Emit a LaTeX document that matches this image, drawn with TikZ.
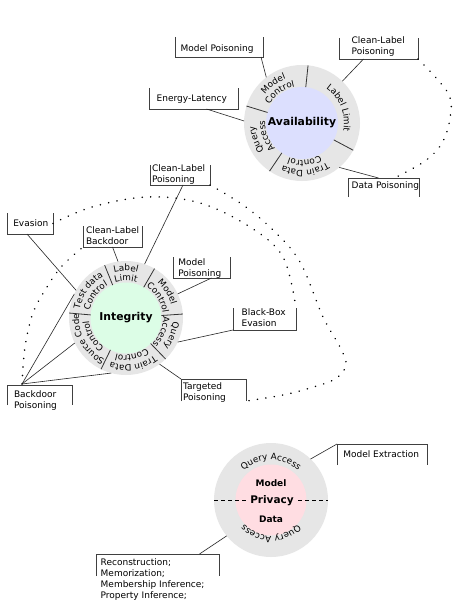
\documentclass[tikz,border=0pt]{standalone}
\usepackage{fontspec}
\setmainfont{DejaVu Sans}
\usetikzlibrary{calc,decorations.text}
\definecolor{ringgray}{HTML}{E6E6E6}
\definecolor{avfill}{HTML}{DCDFFE}
\definecolor{infill}{HTML}{DCFDE6}
\definecolor{prfill}{HTML}{FFDDE2}
\newcommand\ringfont{\fontsize{8.8}{10}\selectfont}
\newcommand\lblfont{\fontsize{9}{11}\selectfont}
\newcommand\ttlfont{\fontsize{10.8}{13}\selectfont\bfseries}
\newcommand\openTop[1]{\draw[brkline] (#1.north west) -- (#1.south west) -- (#1.south east) -- (#1.north east);}
\newcommand\openBot[1]{\draw[brkline] (#1.south west) -- (#1.north west) -- (#1.north east) -- (#1.south east);}
\newcommand\ringtext[4]{%
  \path[decorate,decoration={text along path,text align=center,text={|\ringfont|#4}}]
    ($(#1)+(#3+70:#2)$) arc[start angle=#3+70,end angle=#3-70,radius=#2];}
\begin{document}
\begin{tikzpicture}[x=1pt,y=-1pt,
  outerc/.style={circle,fill=ringgray,inner sep=0pt,outer sep=0pt},
  innerc/.style={circle,inner sep=0pt,outer sep=0pt},
  brk/.style={inner sep=0pt,outer sep=0pt},
  lbl/.style={inner sep=0pt,outer sep=0pt,font=\lblfont,align=left,anchor=west},
  ttl/.style={inner sep=0pt,font=\ttlfont},
  conn/.style={draw=black!85,line width=0.6pt},
  sepl/.style={draw=black!80,line width=0.8pt},
  brkline/.style={draw=black!75,line width=0.8pt},
  dots/.style={draw=black,line width=1.7pt,line cap=round,dash pattern=on 0.01pt off 8.5pt},
]
\useasboundingbox[fill=white] (0,0) rectangle (460,607);

% ---------- Availability ----------
\node[outerc,minimum size=116pt] (avO) at (302,123) {};
\node[innerc,fill=avfill,minimum size=72pt] (avI) at (302,123) {};
\foreach \a in {84,163,236,-28} \draw[sepl] (avI.\a) -- (avO.\a);
\ringtext{avO}{47pt}{126}{Model}
\ringtext{avO}{37pt}{126}{Control}
\ringtext{avO}{42pt}{22}{Label Limit}
\ringtext{avO}{47pt}{200}{Query}
\ringtext{avO}{37pt}{200}{Access}
\ringtext{avO}{47pt}{-86}{Train Data}
\ringtext{avO}{37pt}{-86}{Control}
\node[ttl] (avT) at (302,123) {Availability};

% ---------- Integrity ----------
\node[outerc,minimum size=114pt] (inO) at (126,318) {};
\node[innerc,fill=infill,minimum size=71pt] (inI) at (126,318) {};
\foreach \a in {112,60,4,-46,244,175} \draw[sepl] (inI.\a) -- (inO.\a);
\ringtext{inO}{47pt}{144}{Test data}
\ringtext{inO}{37pt}{144}{Control}
\ringtext{inO}{47pt}{90}{Label}
\ringtext{inO}{37pt}{90}{Limit}
\ringtext{inO}{47pt}{32}{Model}
\ringtext{inO}{37pt}{32}{Control}
\ringtext{inO}{47pt}{-21}{Query}
\ringtext{inO}{37pt}{-21}{Access}
\ringtext{inO}{47pt}{-81}{Train Data}
\ringtext{inO}{37pt}{-81}{Control}
\ringtext{inO}{47pt}{209}{Source Code}
\ringtext{inO}{37pt}{209}{Control}
\node[ttl] (inT) at (126,318) {Integrity};

% ---------- Privacy ----------
\node[outerc,minimum size=114pt] (prO) at (271,500) {};
\node[innerc,fill=prfill,minimum size=71pt] (prI) at (271,500) {};
\ringtext{prO}{40pt}{90}{Query Access}
\ringtext{prO}{36pt}{-90}{Query Access}
\draw[line width=0.8pt,dash pattern=on 4pt off 3pt] (prO.west) -- (prO.east);
\node[inner sep=0pt,font=\fontsize{9}{11}\selectfont\bfseries] (prM) at (271,483) {Model};
\node[inner sep=1.5pt,fill=prfill,font=\fontsize{10.5}{13}\selectfont\bfseries] (prT) at (272,500.5) {Privacy};
\node[inner sep=0pt,font=\fontsize{9}{11}\selectfont\bfseries] (prD) at (271,519) {Data};

% ---------- boxes ----------
\node[brk,minimum width=88pt,minimum height=20pt] (mpA) at (219,47) {};
\node[lbl] (mpAt) at (180.7,49) {Model Poisoning};
\openTop{mpA}
\node[brk,minimum width=89pt,minimum height=21pt] (elA) at (193.5,98.5) {};
\node[lbl] (elAt) at (156.7,99) {Energy-Latency};
\openTop{elA}
\node[brk,minimum width=79pt,minimum height=21pt] (clpA) at (378.5,48.5) {};
\node[lbl] (clpAt) at (351.7,46.8) {Clean-Label\\Poisoning};
\openTop{clpA}
\node[brk,minimum width=71pt,minimum height=19pt] (dpA) at (383.5,187.5) {};
\node[lbl] (dpAt) at (351.7,186) {Data Poisoning};
\openBot{dpA}

\node[brk,minimum width=60pt,minimum height=20pt] (clpI) at (180,175) {};
\node[lbl] (clpIt) at (152,174.8) {Clean-Label\\Poisoning};
\openTop{clpI}
\node[brk,minimum width=46pt,minimum height=21pt] (evI) at (30,223.5) {};
\node[lbl] (evIt) at (13.3,223) {Evasion};
\openTop{evI}
\node[brk,minimum width=59pt,minimum height=21pt] (clbI) at (112.5,236.5) {};
\node[lbl] (clbIt) at (86,236) {Clean-Label\\Backdoor};
\openTop{clbI}
\node[brk,minimum width=57pt,minimum height=21pt] (mpI) at (201.5,267.5) {};
\node[lbl] (mpIt) at (178.3,268.8) {Model\\Poisoning};
\openTop{mpI}
\node[brk,minimum width=63pt,minimum height=22pt] (bbeI) at (264.5,319) {};
\node[lbl] (bbeIt) at (241.7,318) {Black-Box\\Evasion};
\openTop{bbeI}
\node[brk,minimum width=65.5pt,minimum height=22pt] (tpI) at (213.75,390) {};
\node[lbl] (tpIt) at (183,392.8) {Targeted\\Poisoning};
\openBot{tpI}
\node[brk,minimum width=65pt,minimum height=20pt] (bpI) at (39.5,395) {};
\node[lbl] (bpIt) at (14,400.3) {Backdoor\\Poisoning};
\openBot{bpI}

\node[brk,minimum width=90pt,minimum height=21pt] (meP) at (382,454.5) {};
\node[lbl] (mePt) at (343.3,454) {Model Extraction};
\openBot{meP}
\node[brk,minimum width=123pt,minimum height=22pt] (recP) at (157.5,565) {};
\node[lbl] (recPt) at (100.7,579.3) {Reconstruction;\\Memorization;\\Membership Inference;\\Property Inference;};
\openBot{recP}

% ---------- connectors ----------
\draw[conn] ($(mpA.south east)+(-2,0)$) -- (avO.128);
\draw[conn] ($(elA.south)+(13,0)$) -- (avO.178);
\draw[conn] ($(clpA.south)+(-15,0)$) -- (avO.46);
\draw[conn] (avO.-50) -- ($(dpA.north)+(-5,0)$);

\draw[conn] ($(clpI.south)+(3,0)$) -- (inO.71);
\draw[conn] ($(evI.south)+(-3,0)$) -- (inO.151);
\draw[conn] (clbI.south) -- (inO.98);
\draw[conn] ($(mpI.south)+(10,0)$) -- (inO.25);
\draw[conn] (bbeI.south west) -- (inO.-25);
\draw[conn] (tpI.north west) -- (inO.-54);
\coordinate (bpHub) at ($(bpI.north west)+(15,-1)$);
\draw[conn] (bpHub) -- (inO.155);
\draw[conn] (bpHub) -- (inO.206);
\draw[conn] (bpHub) -- (inO.255);

\draw[conn] (prO.46) -- (meP.north west);
\draw[conn] ($(recP.north)+(42,0)$) -- (prO.219);

% ---------- dotted links ----------
\coordinate (dpEnd) at ($(dpA.north)+(11,0)$);
\draw[dots] plot[smooth,tension=0.6] coordinates {(clpA.south east) (448,93) (450,118) (442,143) (425,161) (dpEnd)};
\draw[dots] plot[smooth,tension=0.6] coordinates {(clpI.south east) (243,205) (273,230) (300,262) (323,317) (340,347) (346,365) (335,379) (310,388) (283,395) (tpI.south east)};
\draw[dots] plot[smooth,tension=0.6] coordinates {(evI.east) (92,207) (147,197) (200,203) (250,227) (283,257) (bbeI.north east)};
\draw[dots] plot[smooth,tension=0.6] coordinates {(bpHub) (25,347) (33,313) (47,287) (62,266) (clbI.south west)};
\end{tikzpicture}
\end{document}
